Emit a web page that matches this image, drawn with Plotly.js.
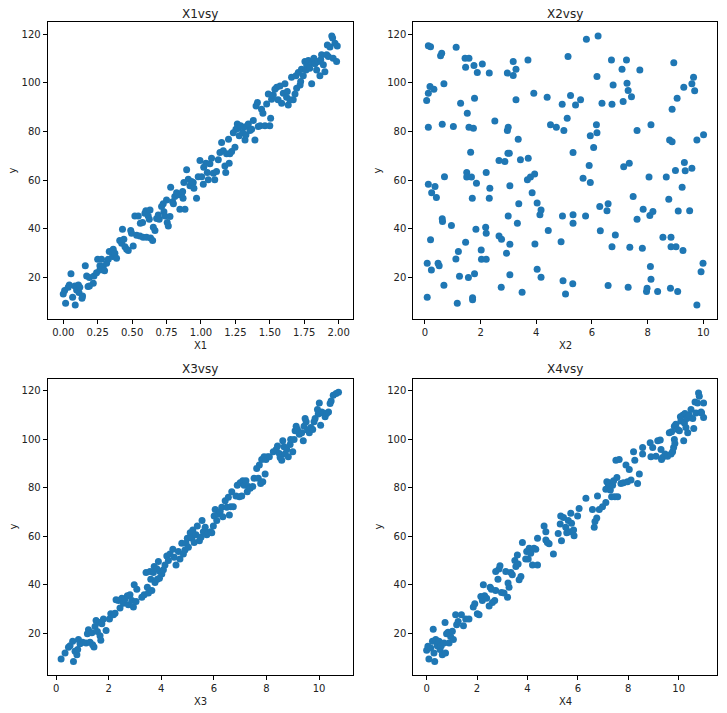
<!DOCTYPE html>
<html>
<head>
<meta charset="utf-8">
<script src="https://cdn.plot.ly/plotly-3.0.1.min.js"></script>
<style>html,body{margin:0;padding:0;background:#fff;}#chart{width:727px;height:713px;}</style>
</head>
<body>
<div id="chart"></div>
<script>
// Panel 1: X1 vs y
var x1 = [0,0.01,0.017,0.036,0.056,0.044,0.068,0.085,0.087,0.097,0.11,0.114,0.12,0.136,0.14,0.16,0.17,0.18,0.19,0.19,0.218,0.223,0.242,0.25,0.266,0.278,0.266,0.29,0.30,0.315,0.327,0.358,0.334,0.363,0.375,0.387,0.41,0.424,0.43,0.44,0.448,0.46,0.472,0.49,0.496,0.508,0.52,0.533,0.545,0.557,0.56,0.576,0.58,0.593,0.60,0.605,0.617,0.625,0.63,0.634,0.649,0.654,0.666,0.678,0.69,0.697,0.714,0.726,0.731,0.738,0.75,0.755,0.763,0.775,0.78,0.794,0.8,0.81,0.823,0.835,0.847,0.86,0.867,0.87,0.884,0.876,0.896,0.908,0.92,0.932,0.944,0.949,0.968,0.98,0.993,1.005,1.017,1.02,1.036,1.046,1.053,1.065,1.077,1.09,1.10,1.113,1.126,1.138,1.15,1.162,1.174,1.18,1.186,1.2,1.205,1.21,1.223,1.235,1.247,1.254,1.264,1.27,1.278,1.288,1.303,1.312,1.32,1.327,1.336,1.344,1.356,1.368,1.38,1.392,1.4,1.41,1.416,1.43,1.44,1.45,1.465,1.477,1.489,1.5,1.506,1.513,1.525,1.537,1.55,1.56,1.574,1.586,1.598,1.61,1.622,1.627,1.634,1.646,1.658,1.67,1.683,1.69,1.695,1.707,1.72,1.724,1.73,1.743,1.755,1.763,1.768,1.78,1.79,1.804,1.81,1.82,1.828,1.84,1.852,1.864,1.87,1.876,1.889,1.9,1.913,1.918,1.925,1.937,1.95,1.956,1.96,1.973,1.985,1.99];
var y1 = [13.1,14.5,9.3,15.9,21.4,16.8,11.8,16.4,8.6,14.8,16.8,13.7,15.9,11.4,12.3,24.7,20.5,16.2,16.4,19.9,17.5,20.5,21.9,27.4,24.7,27.4,23,24.4,22.7,25.8,27.4,28.5,30.6,31.5,29.9,27.8,35.1,34,39.7,35.6,32.6,31.5,31,39.2,38.1,32.9,45.2,37.3,45.2,37,42.2,42.5,36.5,46.3,47.4,36.5,45.2,43.9,47.7,36.1,35.1,40.6,39.2,44.2,45.6,43.9,49.1,50.2,47,45.2,51.8,42.5,41.1,45,57,51.1,50.2,53.2,54.8,53.9,48,54.6,55.3,52.5,48,59,64.2,60.3,57.6,59.4,59,56.6,52.5,61.4,68,61.4,58.3,65.3,66.9,63.1,60.1,66.7,69,62.8,60.1,63.5,68.3,71.3,75.4,72.1,65.8,63.1,70.8,76.8,66.9,70.8,71.7,79.5,73.5,80.9,83.1,81.3,78.2,82.3,79.5,81.7,76.5,78.6,82.3,83.1,80.4,80.9,84.5,76.5,90.5,91.9,82,82.3,89.1,87.5,82.3,91.3,95.4,82.3,85.4,93.2,95,97.4,98.2,93,98.7,91.6,95.7,99.6,94.1,96.4,90.9,93,102.3,93,95.4,102.9,97.8,104.2,99.1,100.5,105.6,102.9,108.8,105.3,107,109.2,106,99.6,108.3,110.1,107.8,105.3,108.8,102.9,109.5,111.5,107.4,104.6,111.5,115.6,110.8,114.7,119.3,118.4,110.1,116.3,108.8,115.2];

// Panel 2: X2 vs y
var x2 = [0.12,0.2,0.06,0.12,0.18,0.32,0.12,0.12,0.24,0.36,0.41,0.2,0.08,0.23,0.08,0.47,0.51,0.56,0.6,0.68,0.62,0.7,0.62,0.63,0.68,0.95,1.02,1.12,1.11,1.16,1.2,1.24,1.28,1.44,1.46,1.46,1.52,1.5,1.5,1.58,1.58,1.56,1.64,1.67,1.74,1.7,1.71,1.71,1.76,1.78,1.78,1.83,1.85,1.88,2.02,2.03,2.06,2.18,2.2,2.2,2.2,2.31,2.33,2.31,2.51,2.66,2.66,2.75,2.74,2.87,2.93,2.96,2.96,2.99,2.98,3.03,2.99,3.05,3.05,3.05,3.17,3.17,3.27,3.27,3.32,3.35,3.37,3.43,3.49,3.7,3.71,3.68,3.79,3.85,3.91,3.94,3.95,4.03,4.03,4.13,4.17,4.17,4.39,4.43,4.51,4.72,4.89,4.93,4.94,4.99,4.96,5.05,5.11,5.14,5.23,5.31,5.32,5.32,5.32,5.41,5.59,5.68,5.77,5.8,5.9,5.94,5.94,6.06,6.16,6.18,6.18,6.22,6.28,6.3,6.36,6.54,6.58,6.58,6.7,6.72,6.72,6.76,6.84,7.08,7.12,7.14,7.24,7.26,7.3,7.34,7.36,7.3,7.42,7.48,7.62,7.62,7.72,7.81,7.84,7.96,7.98,8.05,8.08,8.1,8.12,8.12,8.19,8.36,8.55,8.67,8.76,8.79,8.82,8.84,8.84,8.88,8.88,8.94,9.0,9.02,9.06,9.08,9.1,9.24,9.27,9.3,9.32,9.35,9.51,9.59,9.59,9.65,9.69,9.77,9.77,9.92,9.99,10.01];
var y2 = [115.3,114.8,92.7,95.7,98.5,97.4,81.7,58.3,54.8,57.3,52.8,35.4,25.8,23,11.8,25.8,24.7,111.1,112.2,99.6,83,61.4,44.1,42.9,16.7,41.3,82,114.6,27.5,9.3,30.6,20.4,91.6,110.1,106.4,34.4,87.5,63.1,61.2,110.1,81.7,19.9,71.4,61.2,81.3,52.5,11.6,10.7,107.1,21.4,93.7,39.8,58.7,104.2,31.2,27.4,107.7,40.6,63.1,38.1,27.4,104,56.6,52.5,84.3,68,37,35.6,15.9,67.6,29.9,104,80.4,81.7,71,71,45.2,33.6,21,57.6,108.8,103,105.6,93,42.2,76.8,50.2,68.3,13.8,109.4,69,60.1,61.2,54.8,95.7,62.5,33.7,50.5,23.3,45.7,47.7,20,94.1,39.2,82.7,81.7,34.6,91.2,45.2,80.4,18.6,13.1,85.4,110.8,94.8,17.3,71.3,45.7,42.2,90.9,93,60.7,45.2,117.9,66,78.2,59,73.4,82.7,79.5,102.6,119.3,49.1,39.1,91.6,47.4,50.2,16.6,109.4,91.2,32.6,99.1,37.4,105.6,92.3,65.5,109.4,99.8,96.8,66.9,32.3,15.9,94.3,53.2,43.9,80.4,105.3,31.9,48,14.1,15.5,61.2,45.4,24.4,19.2,82.7,47.1,14.1,36.5,61.2,52.1,76.5,15.5,36.5,32.6,75.8,89.1,108.3,63.9,32.6,93.7,14.1,47.3,57,31,98.2,67.2,63.8,47.4,99.6,64.9,102.3,96.7,76.5,8.6,22.3,25.8,78.6];

// Panel 3: X3 vs y
var x3 = [0.19,0.34,0.47,0.53,0.63,0.66,0.72,0.79,0.85,0.82,0.91,1.01,1.14,1.23,1.19,1.29,1.36,1.39,1.44,1.48,1.52,1.57,1.65,1.67,1.7,1.74,1.8,1.9,2.03,2.08,2.18,2.24,2.28,2.37,2.43,2.5,2.56,2.62,2.71,2.75,2.81,2.88,2.94,2.97,3.04,3.07,3.26,3.35,3.42,3.47,3.51,3.57,3.6,3.64,3.7,3.73,3.76,3.83,3.85,3.89,3.93,3.95,4.02,4.08,4.14,4.21,4.27,4.33,4.44,4.49,4.56,4.65,4.71,4.78,4.84,4.9,4.94,4.99,5.03,5.1,5.16,5.2,5.25,5.32,5.37,5.45,5.51,5.55,5.6,5.67,5.73,5.79,5.88,5.92,5.98,6.01,6.05,6.11,6.17,6.24,6.3,6.34,6.43,6.49,6.55,6.59,6.64,6.68,6.74,6.84,6.89,6.97,7.0,7.06,7.1,7.15,7.22,7.27,7.31,7.38,7.48,7.53,7.63,7.69,7.73,7.78,7.82,7.86,7.91,7.95,7.98,8.04,8.11,8.26,8.37,8.42,8.49,8.52,8.58,8.62,8.67,8.71,8.77,8.83,8.9,8.92,9.0,9.05,9.09,9.13,9.18,9.25,9.34,9.4,9.43,9.47,9.51,9.56,9.63,9.69,9.76,9.81,9.85,9.94,9.97,10.01,10.06,10.1,10.16,10.23,10.29,10.36,10.42,10.46,10.54,10.65,10.74];
var y3 = [9.3,11.8,14.1,14.8,16.6,8.3,12.5,11.1,17.3,13.2,15.6,16.2,15.9,21.4,19.7,16.2,20.1,15.2,14.2,22.7,25.2,20.6,24.4,18.9,17,23.8,25.8,21.1,25.8,28,27.5,28.2,33.7,33.4,30.3,34.4,32.3,34,35.4,31.7,35.8,33.4,30.7,39.9,33,38.1,34.8,35.8,45,38.9,36.5,45.4,42.2,37.6,45,47.4,40.9,46.5,42.2,49.5,42.6,45.4,44.4,46.1,48.1,51.8,49.9,52.6,54.6,51.3,48.1,53.6,50.5,57,52.6,54.3,57,59.1,55.4,61.4,59.1,62.5,57.3,60.5,64.2,58.1,59.5,66.4,61.8,63.6,60.5,61.4,61.8,61.4,64.2,68.3,71,66.4,69.1,70.1,71.9,68,74.6,71.9,76,68.7,72.1,78.3,72.1,76.5,81,76.2,82,76.5,82.8,81,82.8,78.3,80.4,79.7,80.4,83.8,87.9,83.8,89.3,81.7,91.6,82.4,92.7,85.6,91.6,92.7,92.7,94.8,95.7,97.1,94.1,92.4,91.3,99.3,96.8,93.8,95.7,92.7,97.8,99.8,94.8,99.8,103.4,105.3,103.9,102,102.6,99.3,105.3,108.5,107.1,103.7,102.6,104.8,103.9,107.1,108.5,112.2,110.3,114.9,105.7,111.2,110.8,109.2,110.5,111.2,114.7,115.7,118.1,118.8,119.3];

// Panel 4: X4 vs y
var x4 = [0,0.05,0.09,0.16,0.23,0.26,0.29,0.32,0.36,0.42,0.49,0.53,0.58,0.62,0.69,0.73,0.75,0.79,0.85,0.89,0.95,1.02,1.06,1.15,1.19,1.25,1.38,1.46,1.55,1.68,1.85,1.91,2.01,2.08,2.15,2.21,2.25,2.3,2.38,2.48,2.52,2.57,2.61,2.7,2.74,2.74,2.83,2.87,2.91,2.97,3.07,3.14,3.21,3.23,3.27,3.34,3.4,3.5,3.54,3.6,3.63,3.67,3.74,3.8,3.93,3.97,4.03,4.07,4.13,4.2,4.26,4.33,4.4,4.4,4.66,4.73,4.73,4.79,4.86,5.03,5.22,5.3,5.32,5.35,5.43,5.52,5.56,5.62,5.66,5.72,5.75,5.83,5.85,5.99,6.05,6.32,6.58,6.65,6.68,6.75,6.78,6.85,6.98,7.11,7.11,7.15,7.21,7.25,7.29,7.34,7.38,7.42,7.47,7.51,7.55,7.58,7.64,7.71,7.81,7.91,7.97,8.04,8.11,8.21,8.26,8.37,8.44,8.57,8.57,8.87,8.9,8.97,9.1,9.17,9.27,9.3,9.32,9.36,9.46,9.56,9.63,9.7,9.72,9.76,9.8,9.83,9.83,9.85,9.89,9.96,10.03,10.07,10.09,10.16,10.2,10.23,10.25,10.29,10.33,10.36,10.42,10.49,10.56,10.6,10.65,10.69,10.75,10.79,10.82,10.89,10.91,10.99,10.99];
var y4 = [12.9,14.6,9.3,13.8,16.6,21.6,11.8,8.3,17.3,14.8,16.6,13.2,14.8,11.1,15.9,24.4,11.8,19.7,20.3,15.9,18.6,20.7,17.3,27.5,23.4,24.8,27.5,23,25.8,25.8,30.7,32.1,28,27.5,35.1,33.4,39.9,35.4,34.4,31.2,38.9,38.1,32.6,33.4,37.6,45.4,42.2,46.4,47.8,36.7,36.5,45.4,34.8,40.6,38.9,45,44,49.9,47.4,52.2,48.5,42,43.3,57.3,50.5,53.6,50.5,55,52.9,48.1,55,54.6,48.1,59.1,64.2,61.8,58.4,57.3,56.8,52.6,61.1,65,68.3,58.1,67.7,63.6,61.4,66.4,61.8,69.4,65.3,62.5,60.1,68.3,71.4,75.6,71,63.6,66,67.4,76.5,71,72.1,73.8,79.3,82.4,80.4,82,79,76.2,81,82.8,76.2,91.3,84.2,76.2,91.6,81.7,82,89.3,82.4,87.5,83.1,94.8,91.3,81.7,85.6,96.5,93.8,98.5,92.7,96.5,92.9,99.3,99.6,95.7,91.6,92.4,93.8,92.9,102.6,93.8,103,94.8,96.5,105.3,99.8,98.2,106.1,103.9,103.4,109.2,107.5,109.8,99.3,106.6,110.5,104.8,108.5,102.6,109.8,112.2,108.5,104.4,115.3,110.8,114.9,119,117.7,111.2,110.8,114.9,108.9];

var titles = ["X1vsy", "X2vsy", "X3vsy", "X4vsy"];
var xLabels = ["X1", "X2", "X3", "X4"];
var yLabel = "y";

var COLOR = '#1f77b4';
var FONT = 'DejaVu Sans, sans-serif';
var TXT = '#222222';
var W = 727, H = 713;

function mk(x, y, xa, ya) {
  return {x: x, y: y, type: 'scatter', mode: 'markers', xaxis: xa, yaxis: ya,
    marker: {color: COLOR, size: 7, line: {width: 0}}, hoverinfo: 'skip', showlegend: false};
}
var data = [mk(x1, y1, 'x', 'y'), mk(x2, y2, 'x2', 'y2'), mk(x3, y3, 'x3', 'y3'), mk(x4, y4, 'x4', 'y4')];

function ax(domain, range, extra) {
  var a = {domain: domain, range: range, showgrid: false, zeroline: false,
    showline: true, mirror: true, linecolor: '#000', linewidth: 1,
    ticks: 'outside', ticklen: 4, tickwidth: 1, tickcolor: '#000',
    tickfont: {family: FONT, size: 10, color: TXT}, fixedrange: true};
  for (var k in extra) a[k] = extra[k];
  return a;
}
var dxL = [47.7 / W, 352.7 / W], dxR = [413.3 / W, 717.2 / W];
var dyT = [1 - 319.3 / H, 1 - 22.3 / H], dyB = [1 - 675 / H, 1 - 378.7 / H];
var yr = [2.7, 124.9];
var yExtra = {tickvals: [20, 40, 60, 80, 100, 120]};

var layout = {
  width: W, height: H, margin: {l: 0, r: 0, t: 0, b: 0},
  paper_bgcolor: '#fff', plot_bgcolor: '#fff', showlegend: false,
  xaxis: ax(dxL, [-0.113, 2.102], {tickvals: [0, 0.25, 0.5, 0.75, 1, 1.25, 1.5, 1.75, 2], tickformat: '.2f', anchor: 'y'}),
  yaxis: ax(dyT, yr, Object.assign({anchor: 'x'}, yExtra)),
  xaxis2: ax(dxR, [-0.42, 10.5], {tickvals: [0, 2, 4, 6, 8, 10], anchor: 'y2'}),
  yaxis2: ax(dyT, yr, Object.assign({anchor: 'x2'}, yExtra)),
  xaxis3: ax(dxL, [-0.32, 11.28], {tickvals: [0, 2, 4, 6, 8, 10], anchor: 'y3'}),
  yaxis3: ax(dyB, yr, Object.assign({anchor: 'x3'}, yExtra)),
  xaxis4: ax(dxR, [-0.53, 11.53], {tickvals: [0, 2, 4, 6, 8, 10], anchor: 'y4'}),
  yaxis4: ax(dyB, yr, Object.assign({anchor: 'x4'}, yExtra)),
  annotations: []
};

function ann(text, px, py, size, angle) {
  return {text: text, xref: 'paper', yref: 'paper', x: px / W, y: 1 - py / H,
    xanchor: 'center', yanchor: 'middle', showarrow: false, textangle: angle || 0,
    font: {family: FONT, size: size, color: TXT}};
}
var tPos = [[200, 13.5], [565, 13.5], [200, 369], [565, 369]];
var xlPos = [[200, 345], [565, 345], [200, 701], [565, 701]];
var ylPos = [[12.5, 171], [377.5, 171], [12.5, 527], [377.5, 527]];
for (var i = 0; i < 4; i++) {
  layout.annotations.push(ann(titles[i], tPos[i][0], tPos[i][1], 12));
  layout.annotations.push(ann(xLabels[i], xlPos[i][0], xlPos[i][1], 10));
  layout.annotations.push(ann(yLabel, ylPos[i][0], ylPos[i][1], 10, -90));
}

Plotly.newPlot('chart', data, layout, {staticPlot: true, displayModeBar: false});
</script>
</body>
</html>
